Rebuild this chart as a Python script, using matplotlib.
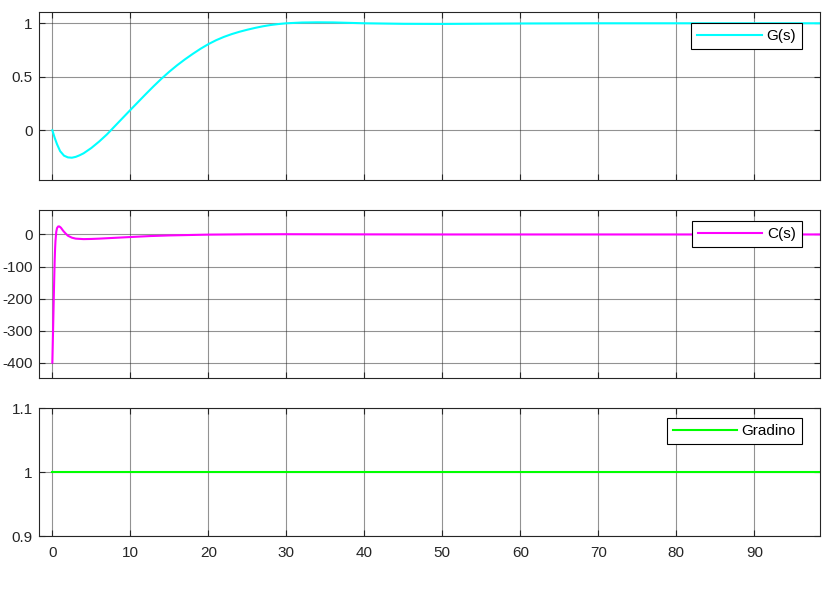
import matplotlib
matplotlib.use('Agg')
import matplotlib.pyplot as plt

plt.rcParams['font.family'] = ['Liberation Sans', 'DejaVu Sans']
plt.rcParams['axes.unicode_minus'] = False

# G(s) step response
t_g = [0, 0.3, 0.6, 1.0, 1.5, 2.0, 2.5, 3.0, 3.5, 4.0, 5.0, 6.0, 7.0, 7.5, 8.0,
       9.0, 10.0, 11.0, 12.0, 13.0, 14.0, 15.0, 16.0, 17.0, 18.0, 19.0, 20.0,
       21.0, 22.0, 23.0, 24.0, 25.0, 26.0, 27.0, 28.0, 29.0, 30.0, 32.0, 34.0,
       36.0, 40.0, 45.0, 50.0, 55.0, 60.0, 70.0, 80.0, 100.0]
g_vals = [0, -0.07, -0.13, -0.195, -0.237, -0.253, -0.256, -0.248, -0.233,
          -0.215, -0.165, -0.105, -0.038, 0.0, 0.038, 0.114, 0.19, 0.265, 0.34,
          0.413, 0.483, 0.548, 0.608, 0.663, 0.714, 0.762, 0.805, 0.842, 0.873,
          0.899, 0.921, 0.94, 0.957, 0.972, 0.984, 0.993, 1.0, 1.007, 1.009,
          1.008, 1.0, 0.995, 0.994, 0.996, 0.998, 1.0, 1.0, 1.0]

# C(s) output
t_c = [0, 0.05, 0.1, 0.15, 0.2, 0.25, 0.3, 0.35, 0.4, 0.5, 0.6, 0.75, 0.9,
       1.1, 1.4, 1.7, 2.0, 2.5, 3.0, 4.0, 5.0, 6.0, 8.0, 10.0, 12.5, 15.0,
       20.0, 25.0, 30.0, 40.0, 50.0, 100.0]
c_vals = [-400, -345, -290, -235, -180, -128, -80, -45, -20, 8, 20, 25, 25,
          21, 11, 3, -4, -10, -13, -14.5, -14, -13, -10.5, -8, -5, -3,
          -0.5, 0.5, 0.8, 0.3, 0, 0]

# Gradino (step input)
t_step = [0, 100]
step_vals = [1, 1]

x_ticks = [0, 10, 20, 30, 40, 50, 60, 70, 80, 90]

fig = plt.figure(figsize=(8.4, 5.94), dpi=100)
ax1 = fig.add_axes([0.047, 0.697, 0.929, 0.282])
ax2 = fig.add_axes([0.047, 0.3636, 0.929, 0.283])
ax3 = fig.add_axes([0.047, 0.0976, 0.929, 0.2155])

ax1.plot(t_g, g_vals, color='#00ffff', lw=1.5, label='G(s)')
ax2.plot(t_c, c_vals, color='#ff00ff', lw=1.5, label='C(s)')
ax3.plot(t_step, step_vals, color='#00ff00', lw=1.5, label='Gradino')

ax1.set_ylim(-0.464, 1.101)
ax1.set_yticks([0, 0.5, 1])
ax1.set_yticklabels(['0', '0.5', '1'])
ax2.set_ylim(-448, 76.6)
ax2.set_yticks([-400, -300, -200, -100, 0])
ax3.set_ylim(0.9, 1.1)
ax3.set_yticks([0.9, 1, 1.1])
ax3.set_yticklabels(['0.9', '1', '1.1'])

legend_y = [0.937, 0.935, 0.922]
for ax, ly in zip([ax1, ax2, ax3], legend_y):
    ax.set_xlim(-1.65, 98.4)
    ax.set_xticks(x_ticks)
    ax.grid(True, color='0.15', alpha=0.5, lw=0.8)
    ax.tick_params(direction='in', top=True, right=True, length=4,
                   width=0.8, colors='0.15', labelsize=11, pad=5)
    for s in ax.spines.values():
        s.set_color('0.15')
        s.set_linewidth(0.8)
    leg = ax.legend(loc='upper right', bbox_to_anchor=(0.977, ly),
                    fontsize=11, handlelength=4.2, handletextpad=0.3,
                    fancybox=False, framealpha=1, edgecolor='black',
                    borderpad=0.4, borderaxespad=0)
    leg.get_frame().set_linewidth(0.8)

ax1.tick_params(labelbottom=False)
ax2.tick_params(labelbottom=False)
ax3.tick_params(axis='x', pad=7)

fig.savefig('out.png', dpi=100)
